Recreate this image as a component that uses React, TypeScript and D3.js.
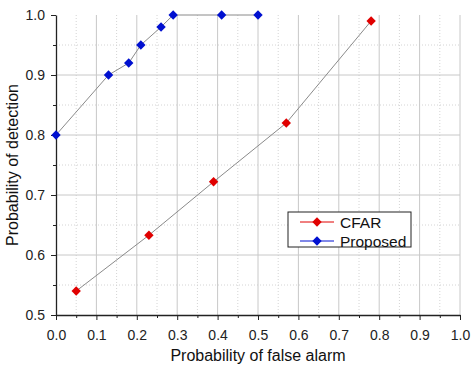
import * as d3 from 'd3'
import { useEffect, useRef } from 'react'

const cfarX = [0.05, 0.23, 0.39, 0.57, 0.78]
const cfarY = [0.54, 0.633, 0.722, 0.82, 0.99]
const propX = [0, 0.13, 0.18, 0.21, 0.26, 0.29, 0.41, 0.5]
const propY = [0.8, 0.9, 0.92, 0.95, 0.98, 1.0, 1.0, 1.0]
const xTicks = [0, 0.1, 0.2, 0.3, 0.4, 0.5, 0.6, 0.7, 0.8, 0.9, 1.0]
const yTicks = [0.5, 0.6, 0.7, 0.8, 0.9, 1.0]

const W = 474
const H = 368
const FONT = 'Liberation Sans, Arial, sans-serif'

export default function App() {
  const svgRef = useRef<SVGSVGElement>(null)

  useEffect(() => {
    if (!svgRef.current) return
    const svg = d3.select(svgRef.current)
    svg.selectAll('*').remove()

    const left = 56, right = 460, top = 15, bottom = 315
    const x = d3.scaleLinear().domain([0, 1]).range([left, right])
    const y = d3.scaleLinear().domain([0.5, 1]).range([bottom, top])

    svg.append('rect').attr('width', W).attr('height', H).attr('fill', '#fff')

    // minor grid (dotted)
    const minorX = d3.range(0.05, 1, 0.1)
    const minorY = d3.range(0.55, 1, 0.1)
    const g = svg.append('g')
    g.selectAll('.mx').data(minorX).join('line')
      .attr('x1', d => x(d)).attr('x2', d => x(d))
      .attr('y1', top).attr('y2', bottom)
      .attr('stroke', '#d4d4d4').attr('stroke-dasharray', '1,2')
    g.selectAll('.my').data(minorY).join('line')
      .attr('x1', left).attr('x2', right)
      .attr('y1', d => y(d)).attr('y2', d => y(d))
      .attr('stroke', '#d4d4d4').attr('stroke-dasharray', '1,2')
    // major grid
    g.selectAll('.gx').data(xTicks.slice(1)).join('line')
      .attr('x1', d => x(d)).attr('x2', d => x(d))
      .attr('y1', top).attr('y2', bottom)
      .attr('stroke', '#c8c8c8').attr('stroke-width', 1)
    g.selectAll('.gy').data(yTicks.slice(1, -1)).join('line')
      .attr('x1', left).attr('x2', right)
      .attr('y1', d => y(d)).attr('y2', d => y(d))
      .attr('stroke', '#c8c8c8').attr('stroke-width', 1)

    // axes
    const xAxis = svg.append('g').attr('transform', `translate(0,${bottom})`)
      .call(d3.axisBottom(x).tickValues(xTicks).tickSize(5).tickSizeOuter(0).tickFormat(d3.format('.1f')))
    const yAxis = svg.append('g').attr('transform', `translate(${left},0)`)
      .call(d3.axisLeft(y).tickValues(yTicks).tickSize(5).tickSizeOuter(0).tickFormat(d3.format('.1f')))
    svg.append('g').attr('transform', `translate(0,${bottom})`)
      .call(d3.axisBottom(x).tickValues(minorX).tickSize(3).tickSizeOuter(0).tickFormat(() => ''))
      .select('.domain').remove()
    svg.append('g').attr('transform', `translate(${left},0)`)
      .call(d3.axisLeft(y).tickValues(minorY).tickSize(3).tickSizeOuter(0).tickFormat(() => ''))
      .select('.domain').remove()
    svg.selectAll('.domain').attr('stroke', '#222').attr('stroke-width', 1.3)
    svg.selectAll('.tick line').attr('stroke', '#222')
    ;[xAxis, yAxis].forEach(a => a.selectAll('text')
      .attr('font-family', FONT).attr('font-size', 14).attr('fill', '#222'))
    xAxis.selectAll('text').attr('dy', '1.2em')
    yAxis.selectAll('text').attr('x', -11)

    // titles
    svg.append('text').attr('x', (left + right) / 2).attr('y', 361)
      .attr('text-anchor', 'middle').attr('font-family', FONT).attr('font-size', 16)
      .attr('fill', '#111').text('Probability of false alarm')
    svg.append('text')
      .attr('transform', `translate(18,${(top + bottom) / 2}) rotate(-90)`)
      .attr('text-anchor', 'middle').attr('font-family', FONT).attr('font-size', 16)
      .attr('fill', '#111').text('Probability of detection')

    const diamond = d3.symbol().type(d3.symbolSquare).size(44)

    const series = [
      { name: 'CFAR', xs: cfarX, ys: cfarY, color: '#e00000' },
      { name: 'Proposed', xs: propX, ys: propY, color: '#0010d0' },
    ]
    series.forEach(s => {
      const pts = s.xs.map((v, i) => [x(v), y(s.ys[i])] as [number, number])
      svg.append('path')
        .attr('d', d3.line()(pts))
        .attr('fill', 'none').attr('stroke', '#8a8a8a').attr('stroke-width', 1)
      svg.append('g').selectAll('path').data(pts).join('path')
        .attr('d', diamond)
        .attr('transform', d => `translate(${d[0]},${d[1]}) rotate(45)`)
        .attr('fill', s.color)
    })

    // legend
    const lg = svg.append('g')
    lg.append('rect').attr('x', 288).attr('y', 212).attr('width', 123).attr('height', 35)
      .attr('fill', '#fff').attr('stroke', '#222').attr('stroke-width', 1)
    series.forEach((s, i) => {
      const cy = 222 + i * 19
      lg.append('line').attr('x1', 300).attr('x2', 334).attr('y1', cy).attr('y2', cy)
        .attr('stroke', s.color).attr('stroke-width', 1)
      lg.append('path').attr('d', diamond)
        .attr('transform', `translate(317,${cy}) rotate(45)`).attr('fill', s.color)
      lg.append('text').attr('x', 340).attr('y', cy + 6)
        .attr('font-family', FONT).attr('font-size', 15.5).attr('fill', '#111').text(s.name)
    })
  }, [])

  return (
    <svg
      ref={svgRef}
      width={W}
      height={H}
      style={{ position: 'absolute', left: 0, top: 0 }}
    />
  )
}
